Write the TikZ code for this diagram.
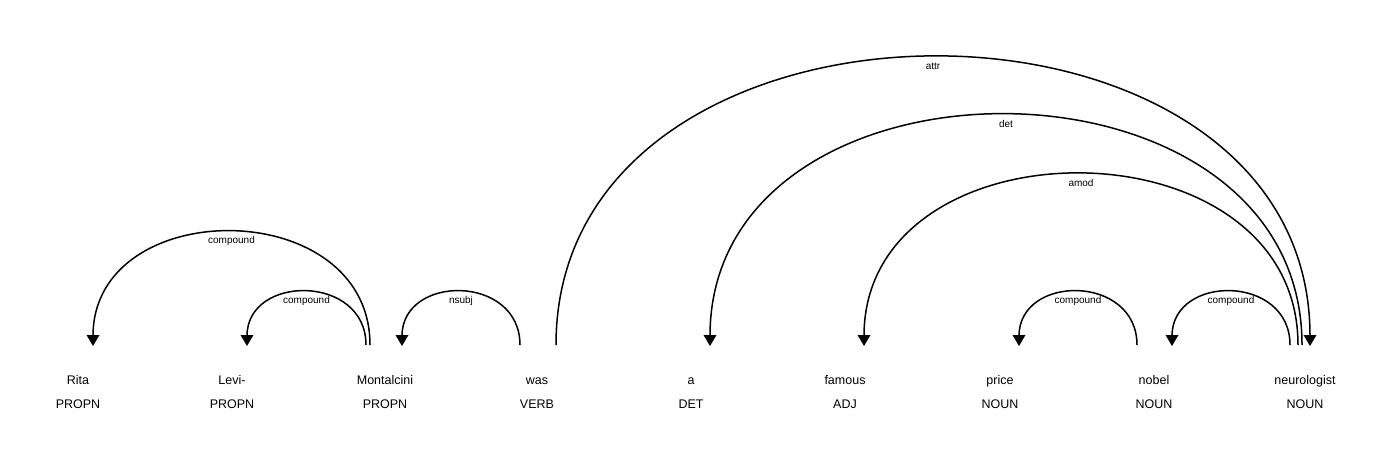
\documentclass[tikz,border=0pt]{standalone}
\usepackage{fontspec}
\setmainfont{Liberation Sans}
\begin{document}
\begin{tikzpicture}[x=1pt,y=-1pt,
  word/.style={font=\fontsize{12.5}{14}\selectfont,inner sep=0pt,anchor=base},
  lab/.style={font=\fontsize{10}{11}\selectfont,inner sep=0pt},
  arcl/.style={line width=1.5pt},
  tipf/.style={fill=black}]
\useasboundingbox (0,0) rectangle (1400,463);
\foreach \x/\w/\t [count=\i] in {78/Rita/PROPN,232/Levi-/PROPN,385/Montalcini/PROPN,537/was/VERB,691/a/DET,845/famous/ADJ,1000/price/NOUN,1154/nobel/NOUN,1305/neurologist/NOUN}{
  \node[word] (w\i) at (\x,384) {\w};
  \node[word] (t\i) at (\x,408) {\t};
}
\foreach \s/\e/\h/\l/\n in {370/93/151/compound/a1, 366/247/71/compound/a2, 520/402/71/nsubj/a3, 556/1310/384/attr/a4, 1302/710/307/det/a5, 1298/864/228/amod/a6, 1137/1019/71/compound/a7, 1290/1172/71/compound/a8}{
  \coordinate (\n s) at (\s,345);
  \coordinate (\n e) at (\e,336);
  \coordinate (\n t) at (\e,346);
  \draw[arcl] (\n s) .. controls (\s,345-\h) and (\e,345-\h) .. (\n e);
  \fill[tipf] (\e-6.5,335) -- (\e+6.5,335) -- (\n t) -- cycle;
  \node[lab] (\n l) at ({(\s+\e)/2},{345-0.75*\h+9}) {\l};
}
\end{tikzpicture}
\end{document}
